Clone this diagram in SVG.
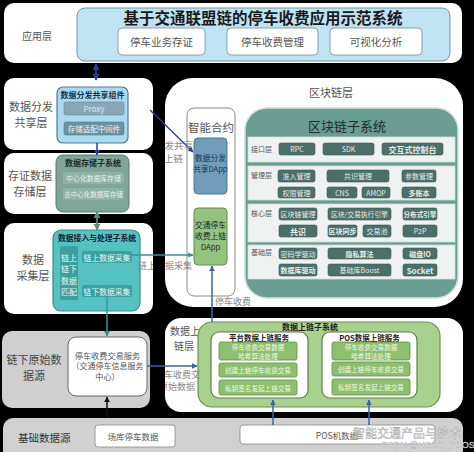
<svg xmlns="http://www.w3.org/2000/svg" width="474" height="452" viewBox="0 0 474 452">
<defs>
<style>
text{font-family:"Noto Sans CJK SC","Noto Sans",sans-serif;text-anchor:middle;dominant-baseline:central}
.lbl{fill:#555;font-size:11px}
.w{fill:#fff}
.btn{fill:#4b6f69;stroke:#3a5a54;stroke-width:0.6}
.bt{fill:#e3ece9;font-size:7px}
.row{fill:#eef2f0;stroke:#cfdcd8;stroke-width:0.8}
.rl{fill:#555;font-size:7px;text-anchor:start}
.gb{fill:#8cc06c;stroke:#5d8f45;stroke-width:0.8}
.gt{fill:#f0f7ea;font-size:6.6px}
.ab{fill:#fff;stroke:#6f8fa0;stroke-width:0.8}
.at{fill:#555;font-size:10.5px}
.ct{fill:#888;font-size:9px}
</style>
<clipPath id="cBC"><rect x="165" y="78" width="298" height="229" rx="28"/></clipPath>
<clipPath id="cCol"><rect x="4" y="223" width="149" height="91" rx="10"/><rect x="165" y="78" width="298" height="229" rx="28"/></clipPath>
<clipPath id="cUp"><rect x="2" y="331" width="148" height="77" rx="10"/><rect x="165" y="318" width="298" height="94" rx="16"/></clipPath>
<marker id="mBlue" viewBox="0 0 10 10" refX="9" refY="5" markerWidth="4" markerHeight="4" orient="auto-start-reverse"><path d="M0,0L10,5L0,10z" fill="#2c3e9c"/></marker>
<marker id="mLb" viewBox="0 0 10 10" refX="9" refY="5" markerWidth="4" markerHeight="4" orient="auto-start-reverse"><path d="M0,0L10,5L0,10z" fill="#3d62b0"/></marker>
<marker id="mTeal" viewBox="0 0 10 10" refX="9" refY="5" markerWidth="4" markerHeight="4" orient="auto-start-reverse"><path d="M0,0L10,5L0,10z" fill="#2f8f92"/></marker>
<marker id="mSage" viewBox="0 0 10 10" refX="9" refY="5" markerWidth="4" markerHeight="4" orient="auto-start-reverse"><path d="M0,0L10,5L0,10z" fill="#5d8b80"/></marker>
<marker id="mBlk" viewBox="0 0 10 10" refX="9" refY="5" markerWidth="4" markerHeight="4" orient="auto-start-reverse"><path d="M0,0L10,5L0,10z" fill="#111"/></marker>
</defs>
<rect x="0" y="0" width="474" height="452" fill="#000"/>

<g id="app-layer">
<rect x="4" y="3" width="458" height="60" rx="10" class="w"/>
<text x="37" y="35" class="lbl" style="font-size:10px">应用层</text>
<rect x="77" y="8" width="373" height="53" rx="8" fill="#bfe3f3" stroke="#6f95aa" stroke-width="1"/>
<text x="263" y="17" style="font-size:15.5px;font-weight:bold;fill:#1a1a1a">基于交通联盟链的停车收费应用示范系统</text>
<rect x="118" y="28" width="87" height="27" rx="4" class="ab"/>
<text x="161.5" y="41.5" class="at">停车业务存证</text>
<rect x="227" y="28" width="91" height="27" rx="4" class="ab"/>
<text x="272.5" y="41.5" class="at">停车收费管理</text>
<rect x="330" y="28" width="92" height="27" rx="4" class="ab"/>
<text x="376" y="41.5" class="at">可视化分析</text>
</g>

<g id="share-layer">
<rect x="4" y="78" width="149" height="72" rx="10" class="w"/>
<text x="31" y="106" class="lbl">数据分发</text>
<text x="31" y="122" class="lbl">共享层</text>
<rect x="57" y="87" width="71" height="56" rx="6" fill="#a9daf0" stroke="#4a7d99" stroke-width="1.2"/>
<text x="92.5" y="94.5" style="font-size:8px;font-weight:bold;fill:#1d2f3d">数据分发共享组件</text>
<rect x="64" y="102" width="60" height="13" rx="2" fill="#87a7b6" stroke="#6a8898" stroke-width="0.6"/>
<text x="94" y="108.5" style="font-size:8px;fill:#dbe8ef">Proxy</text>
<rect x="64" y="122" width="60" height="13" rx="2" fill="#6b91a3" stroke="#587d8f" stroke-width="0.6"/>
<text x="94" y="128.5" style="font-size:7.5px;fill:#eef5f8">存储适配中间件</text>
</g>

<g id="storage-layer">
<rect x="4" y="153" width="149" height="61" rx="10" class="w"/>
<text x="30" y="175" class="lbl">存证数据</text>
<text x="30" y="191" class="lbl">存储层</text>
<rect x="56" y="155" width="73" height="57" rx="7" fill="#7ea597" stroke="#557d6f" stroke-width="1"/>
<text x="93" y="162.5" style="font-size:8px;font-weight:bold;fill:#1d2d28">数据存储子系统</text>
<rect x="63" y="172" width="61" height="12" rx="2" fill="#8fb2a5"/>
<text x="93.5" y="178" style="font-size:6.8px;fill:#e6f0ec">中心化数据库存储</text>
<rect x="63" y="188" width="61" height="12" rx="2" fill="#8fb2a5"/>
<text x="93.5" y="194" style="font-size:6.5px;fill:#e6f0ec">去中心化数据库存储</text>
</g>

<g id="collect-layer">
<rect x="4" y="223" width="149" height="91" rx="10" class="w"/>
<text x="33" y="259" class="lbl">数据</text>
<text x="33" y="275" class="lbl">采集层</text>
<rect x="53" y="230" width="87" height="81" rx="8" fill="#56c1c1" stroke="#368e8e" stroke-width="1.2"/>
<text x="97" y="237.5" style="font-size:7.8px;font-weight:bold;fill:#123">数据接入与处理子系统</text>
<rect x="60" y="246" width="18" height="54" rx="2" fill="#3aa0a0"/>
<text x="69" y="257" style="font-size:8px;fill:#e6f6f6">链上</text>
<text x="69" y="268.5" style="font-size:8px;fill:#e6f6f6">链下</text>
<text x="69" y="280" style="font-size:8px;fill:#e6f6f6">数据</text>
<text x="69" y="291.5" style="font-size:8px;fill:#e6f6f6">匹配</text>
<rect x="82" y="251" width="50" height="12" rx="2" fill="#3aa0a0"/>
<text x="107" y="257" style="font-size:7.8px;fill:#e6f6f6">链上数据采集</text>
<rect x="82" y="285" width="50" height="12" rx="2" fill="#3aa0a0"/>
<text x="107" y="291" style="font-size:7.8px;fill:#e6f6f6">链下数据采集</text>
</g>

<g id="blockchain-layer">
<rect x="165" y="78" width="298" height="229" rx="28" class="w"/>
<text x="331" y="92" class="lbl">区块链层</text>
</g>

<g id="smart-contract">
<rect x="187" y="108" width="48" height="188" rx="7" fill="#fff" stroke="#8a8a8a" stroke-width="1"/>
<text x="211" y="127" style="font-size:11.5px;fill:#555">智能合约</text>
<rect x="194" y="138" width="33" height="56" rx="4" fill="#6f9dba" stroke="#4d7893" stroke-width="1"/>
<text x="210.5" y="157" style="font-size:7.8px;fill:#1d3346">数据分发</text>
<text x="210.5" y="168" style="font-size:7.5px;fill:#1d3346">共享DApp</text>
<rect x="194" y="208" width="33" height="57" rx="4" fill="#93c47d" stroke="#5f8f4a" stroke-width="1"/>
<text x="210.5" y="224" style="font-size:7.8px;fill:#223">交通停车</text>
<text x="210.5" y="235" style="font-size:7.8px;fill:#223">收费上链</text>
<text x="210.5" y="246" style="font-size:7.8px;fill:#223">DApp</text>
</g>

<g id="chain-subsystem">
<rect x="245" y="108" width="213" height="190" rx="22" fill="#6a9e93" stroke="#cfe0db" stroke-width="1.5"/>
<text x="347" y="125" style="font-size:13px;fill:#1d2b28">区块链子系统</text>
<rect x="248" y="137" width="207" height="25" class="row"/>
<text x="251" y="149" class="rl">接口层</text>
<rect x="279" y="143" width="36" height="12" rx="2" class="btn"/><text x="297" y="149" class="bt">RPC</text>
<rect x="323" y="143" width="51" height="12" rx="2" class="btn"/><text x="348.5" y="149" class="bt">SDK</text>
<rect x="382" y="143" width="61" height="12" rx="2" class="btn"/><text x="412.5" y="149" class="bt" style="font-size:8px;font-weight:bold">交互式控制台</text>

<rect x="248" y="166" width="207" height="34" class="row"/>
<text x="251" y="175" class="rl">管理层</text>
<rect x="278" y="170" width="37" height="12" rx="2" class="btn"/><text x="296.5" y="176" class="bt">准入管理</text>
<rect x="327" y="170" width="62" height="12" rx="2" class="btn"/><text x="358" y="176" class="bt">共识管理</text>
<rect x="402" y="170" width="34" height="12" rx="2" class="btn"/><text x="419" y="176" class="bt">参数管理</text>
<rect x="278" y="187" width="37" height="11" rx="2" class="btn"/><text x="296.5" y="192.5" class="bt">权限管理</text>
<rect x="327" y="187" width="30" height="11" rx="2" class="btn"/><text x="342" y="192.5" class="bt">CNS</text>
<rect x="362" y="187" width="28" height="11" rx="2" class="btn"/><text x="376" y="192.5" class="bt">AMOP</text>
<rect x="402" y="187" width="34" height="11" rx="2" class="btn"/><text x="419" y="192.5" class="bt" style="font-weight:bold">多账本</text>

<rect x="248" y="204" width="207" height="38" class="row"/>
<text x="251" y="213" class="rl">核心层</text>
<rect x="279" y="208" width="38" height="12" rx="2" class="btn"/><text x="298" y="214" class="bt">区块链管理</text>
<rect x="328" y="208" width="63" height="12" rx="2" class="btn"/><text x="359.5" y="214" class="bt" style="font-size:6.8px">区块/交易执行引擎</text>
<rect x="403" y="208" width="34" height="12" rx="2" class="btn"/><text x="420" y="214" class="bt" style="font-size:6.6px;font-weight:bold">分布式引擎</text>
<rect x="279" y="225" width="38" height="12" rx="2" class="btn"/><text x="298" y="231" class="bt" style="font-size:8px;font-weight:bold">共识</text>
<rect x="328" y="225" width="29" height="12" rx="2" class="btn"/><text x="342.5" y="231" class="bt" style="font-weight:bold">区块同步</text>
<rect x="363" y="225" width="28" height="12" rx="2" class="btn"/><text x="377" y="231" class="bt">交易池</text>
<rect x="403" y="225" width="34" height="12" rx="2" class="btn"/><text x="420" y="231" class="bt">P2P</text>

<rect x="248" y="245" width="207" height="34" class="row"/>
<text x="251" y="252" class="rl">基础层</text>
<rect x="279" y="248" width="38" height="11" rx="2" class="btn"/><text x="298" y="253.5" class="bt">密码学驱动</text>
<rect x="328" y="248" width="63" height="11" rx="2" class="btn"/><text x="359.5" y="253.5" class="bt" style="font-weight:bold">隐私算法</text>
<rect x="403" y="248" width="34" height="11" rx="2" class="btn"/><text x="420" y="253.5" class="bt" style="font-weight:bold">磁盘IO</text>
<rect x="279" y="264" width="38" height="12" rx="2" class="btn"/><text x="298" y="270" class="bt" style="font-weight:bold">数据库驱动</text>
<rect x="328" y="264" width="63" height="12" rx="2" class="btn"/><text x="359.5" y="270" class="bt">基础库Boost</text>
<rect x="403" y="264" width="34" height="12" rx="2" class="btn"/><text x="420" y="270" class="bt" style="font-size:8px;font-weight:bold">Socket</text>
</g>

<g id="uplink-layer">
<rect x="165" y="318" width="298" height="94" rx="16" class="w"/>
<text x="185" y="330" class="lbl" style="font-size:10px">数据上</text>
<text x="184" y="345" class="lbl" style="font-size:10px">链层</text>
</g>

<g id="uplink-subsystem">
<rect x="198" y="322" width="242" height="85" rx="14" fill="#a9d18e" stroke="#6b9150" stroke-width="1.2"/>
<text x="310" y="326.5" style="font-size:8px;font-weight:bold;fill:#222">数据上链子系统</text>
<rect x="211" y="332" width="97" height="66" rx="8" fill="#fff" stroke="#5d7e4c" stroke-width="1.2"/>
<text x="259" y="337" style="font-size:7.5px;font-weight:bold;fill:#222">平台数据上链服务</text>
<rect x="219" y="342" width="78" height="18" rx="2" class="gb"/>
<text x="258" y="346.5" class="gt">停车收费交易数据</text>
<text x="258" y="355.5" class="gt">哈希算法处理</text>
<rect x="219" y="363" width="78" height="14" rx="2" class="gb"/>
<text x="258" y="370" class="gt">创建上链停车收费交易</text>
<rect x="219" y="380" width="78" height="15" rx="2" class="gb"/>
<text x="258" y="387.5" class="gt">私钥签名发起上链交易</text>

<rect x="322" y="332" width="95" height="66" rx="8" fill="#fff" stroke="#5d7e4c" stroke-width="1.2"/>
<text x="369.5" y="337" style="font-size:7.5px;font-weight:bold;fill:#222">POS数据上链服务</text>
<rect x="332" y="342" width="78" height="18" rx="2" class="gb"/>
<text x="371" y="346.5" class="gt">停车收费交易数据</text>
<text x="371" y="355.5" class="gt">哈希算法处理</text>
<rect x="332" y="362" width="78" height="14" rx="2" class="gb"/>
<text x="371" y="369" class="gt">创建上链停车收费交易</text>
<rect x="332" y="379" width="78" height="16" rx="2" class="gb"/>
<text x="371" y="387" class="gt">私钥签名发起上链交易</text>
</g>

<g id="offchain-source">
<rect x="2" y="331" width="148" height="77" rx="10" fill="#cfcfcf"/>
<text x="34" y="359" class="lbl" style="fill:#444">链下原始数</text>
<text x="34" y="375" class="lbl" style="fill:#444">据源</text>
<rect x="68" y="337" width="79" height="59" rx="8" fill="#fff" stroke="#666" stroke-width="1"/>
<text x="107.5" y="355" style="font-size:8.2px;fill:#555">停车收费交易服务</text>
<text x="107.5" y="365.5" style="font-size:8px;fill:#555">（交通停车信息服务</text>
<text x="107.5" y="376" style="font-size:8.2px;fill:#555">中心）</text>
</g>

<g id="base-source">
<rect x="3" y="418" width="460" height="44" rx="10" fill="#d0d0d0"/>
<text x="18" y="437" class="lbl" style="text-anchor:start;fill:#333;font-size:10.5px">基础数据源</text>
<rect x="95" y="425" width="80" height="22" rx="3" fill="#fff" stroke="#888" stroke-width="0.8"/>
<text x="133" y="436" style="font-size:8.5px;fill:#555">场库停车数据</text>
<rect x="240" y="425" width="195" height="19" rx="3" fill="#fff" stroke="#888" stroke-width="0.8"/>
<text x="337" y="435" style="font-size:8.5px;fill:#555">POS机数据</text>
</g>

<g id="connectors" fill="none">
<line x1="96" y1="64" x2="96" y2="80" stroke="#2c3e9c" stroke-width="1.8" marker-start="url(#mBlue)" marker-end="url(#mBlue)"/>
<line x1="97" y1="143" x2="97" y2="155" stroke="#2c3e9c" stroke-width="1.5" marker-end="url(#mBlue)"/>
<line x1="97" y1="212" x2="97" y2="230" stroke="#5d8b80" stroke-width="1.8" marker-start="url(#mSage)" marker-end="url(#mSage)"/>
<line x1="150" y1="110" x2="193" y2="152" stroke="#2c3e8c" stroke-width="1.3" marker-end="url(#mBlue)"/>
<line x1="132" y1="255" x2="193" y2="255" stroke="#3f8f95" stroke-width="1.3" marker-end="url(#mTeal)"/>
<line x1="107" y1="297" x2="107" y2="336" stroke="#2f9a9a" stroke-width="1.5" marker-end="url(#mTeal)"/>
<line x1="212" y1="322" x2="212" y2="266" stroke="#3d62b0" stroke-width="1.5" marker-end="url(#mLb)"/>
<line x1="147" y1="366" x2="197" y2="366" stroke="#3d62b0" stroke-width="1.5" marker-end="url(#mLb)"/>
<line x1="107" y1="418" x2="107" y2="397" stroke="#111" stroke-width="1.5" marker-end="url(#mBlk)"/>
<line x1="273" y1="425" x2="273" y2="400" stroke="#3d62b0" stroke-width="1.5" marker-end="url(#mLb)"/>
<line x1="369" y1="425" x2="369" y2="400" stroke="#3d62b0" stroke-width="1.5" marker-end="url(#mLb)"/>
<g clip-path="url(#cBC)">
<text x="193" y="145" class="ct" style="text-anchor:end;font-size:9.5px">数据分发共享</text>
<text x="183" y="158" class="ct" style="text-anchor:end;font-size:9.5px">数据上链</text>
</g>
<text x="165" y="265" class="ct" clip-path="url(#cCol)">链上数据采集</text>
<text x="215" y="301" class="ct" style="text-anchor:start">停车收费</text>
<g clip-path="url(#cUp)">
<text x="200" y="374" class="ct" style="text-anchor:end">停车收费交</text>
<text x="195" y="386" class="ct" style="text-anchor:end">易原始数据</text>
</g>
</g>

<g id="watermark">
<text x="407" y="432" style="font-size:12px;fill:#fafafa;stroke:#9a9a9a;stroke-width:0.4">智能交通产品与技术</text>
<text x="428" y="445" style="font-family:'Liberation Sans',sans-serif;font-size:9px;fill:#f4f4f4;stroke:#aaa;stroke-width:0.3">CSDN @HSCO_BCOS</text>
</g>
</svg>
